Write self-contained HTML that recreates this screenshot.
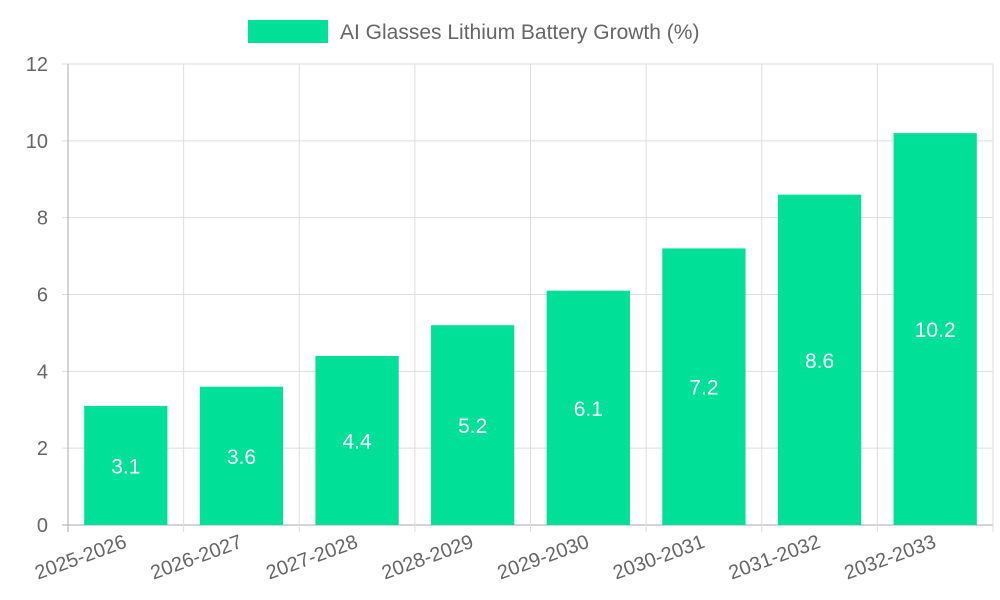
<!DOCTYPE html>
<html><head><meta charset="utf-8"><style>
body{margin:0;background:#fff}
svg{display:block;font-family:"Liberation Sans",sans-serif}
</style></head><body>
<svg id="c" width="1000" height="600"></svg>
<script>
const categories=["2025-2026","2026-2027","2027-2028","2028-2029","2029-2030","2030-2031","2031-2032","2032-2033"];
const values=[3.1,3.6,4.4,5.2,6.1,7.2,8.6,10.2];
const yTicks=[0,2,4,6,8,10,12];
const seriesName="AI Glasses Lithium Battery Growth (%)";
const NS="http://www.w3.org/2000/svg";
const svg=document.getElementById('c');
const L=68,R=993,T=64,B=525,yMax=12;
const cw=(R-L)/categories.length;
const y=v=>B-(v/yMax)*(B-T);
const x=i=>L+i*cw;
function mk(t,a,p){const e=document.createElementNS(NS,t);for(const k in a)e.setAttribute(k,a[k]);(p||svg).appendChild(e);return e;}
const grid=mk('g',{});


yTicks.forEach(t=>{
  mk('line',{x1:L-6,x2:R,y1:y(t),y2:y(t),stroke:t==0?'#aaa':'#ddd','stroke-width':1},grid);
  const tx=mk('text',{x:L-20,y:y(t)+7,'text-anchor':'end','font-size':20,fill:'#666'});
  tx.textContent=t;
  
  
});
for(let i=0;i<=categories.length;i++){
  mk('line',{x1:x(i),x2:x(i),y1:T,y2:B+7,stroke:i==0?'#aaa':'#ddd','stroke-width':1},grid);
}
categories.forEach((c,i)=>{
  const cx=x(i)+cw/2,bw=cw*0.72;
  const r=mk('rect',{x:cx-bw/2,y:y(values[i]),width:bw,height:B-y(values[i]),fill:'#00e096'});
  
  
  const vt=mk('text',{x:cx,y:(y(values[i])+B)/2+8,'text-anchor':'middle','font-size':21,fill:'#fff'});
  vt.textContent=values[i];
  
  
  const lt=mk('text',{x:cx+2,y:547,'text-anchor':'end','font-size':20,fill:'#666',transform:`rotate(-20 ${cx+2} 547)`});
  lt.textContent=c;
  
  
});
const lg=mk('g',{});


mk('rect',{x:248,y:20,width:80,height:23,fill:'#00e096'},lg);
const ltx=mk('text',{x:340,y:39,'font-size':21,fill:'#666'},lg);
ltx.textContent=seriesName;
</script>
</body></html>
